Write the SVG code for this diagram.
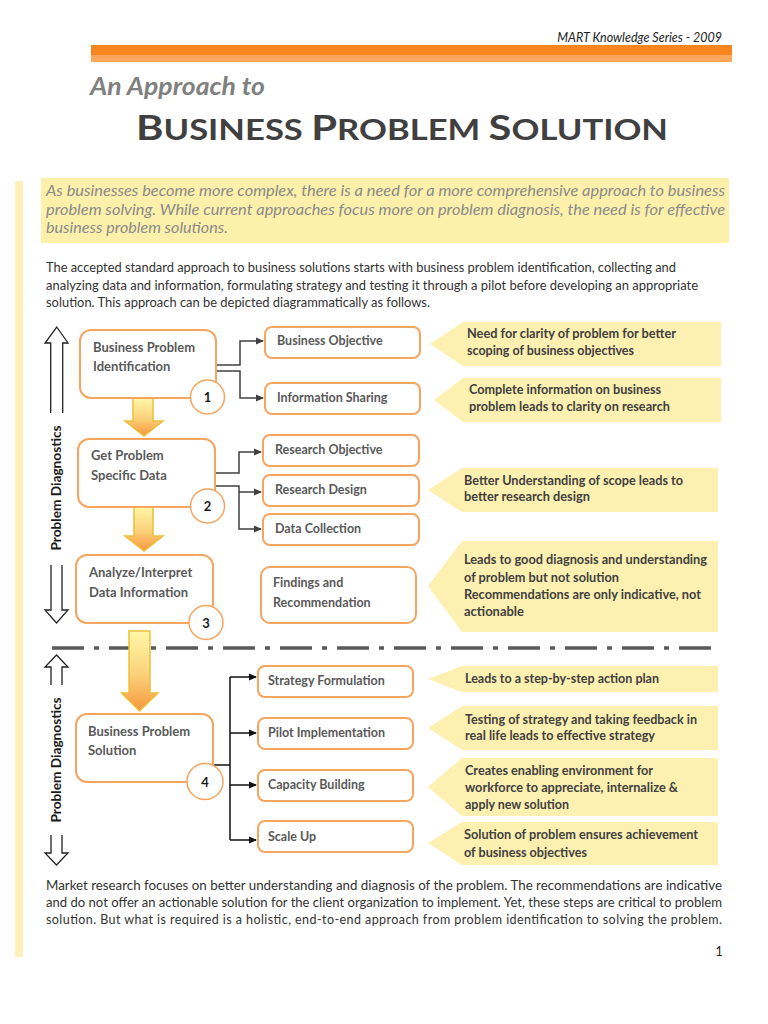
<svg xmlns="http://www.w3.org/2000/svg" width="768" height="1024" viewBox="0 0 768 1024">
<style>
text{font-family:Lato,"Open Sans","Liberation Sans",sans-serif}
.nt{font-size:13px;font-weight:bold;fill:#595959}
.bt{font-size:12.5px;font-weight:bold;fill:#595959}
.ct{font-size:12.5px;font-weight:bold;fill:#404040}
.num{font-size:13px;font-weight:bold;fill:#1a1a1a;text-anchor:middle}
.box{fill:#fff;stroke:#F5A560;stroke-width:2}
.circ{fill:#fff;stroke:#F5A560;stroke-width:1.5}
.call{fill:#FDF0B0}
.conn{fill:none;stroke:#404040;stroke-width:1.5}
.conn2{fill:none;stroke:#111;stroke-width:1.5}
.hollow{fill:#fff;stroke:#222;stroke-width:1.3}
.ya{fill:url(#yg);stroke:#EDC03A;stroke-width:1.5}
.body{font-size:12.5px;fill:#333}
.vt{font-size:13px;font-weight:bold;fill:#1a1a1a;text-anchor:middle}
</style>
<defs>
<linearGradient id="yg" x1="0" y1="0" x2="0" y2="1">
<stop offset="0" stop-color="#FFF8A8"/>
<stop offset="0.55" stop-color="#FBD07A"/>
<stop offset="1" stop-color="#F6963C"/>
</linearGradient>
<marker id="ah" markerWidth="8" markerHeight="8" refX="7" refY="4" orient="auto" markerUnits="userSpaceOnUse">
<path d="M0,0.5 L8,4 L0,7.5 Z" fill="#404040"/>
</marker>
<marker id="ah2" markerWidth="8" markerHeight="8" refX="7" refY="4" orient="auto" markerUnits="userSpaceOnUse">
<path d="M0,0.5 L8,4 L0,7.5 Z" fill="#111"/>
</marker>
</defs>
<rect width="768" height="1024" fill="#fff"/>

<g id="header">
<text x="722" y="42" font-size="12.5" font-style="italic" fill="#222" text-anchor="end">MART Knowledge Series - 2009</text>
<rect x="91" y="45" width="641" height="10" fill="#F7861E"/>
<rect x="91" y="55" width="641" height="7" fill="#FBA75C"/>
<text x="90" y="95" font-size="24" font-style="italic" font-weight="bold" fill="#808080" textLength="175" lengthAdjust="spacingAndGlyphs">An Approach to</text>
<text x="136" y="140" font-weight="bold" fill="#404040" textLength="532" lengthAdjust="spacingAndGlyphs"><tspan font-size="35">B</tspan><tspan font-size="29">USINESS </tspan><tspan font-size="35">P</tspan><tspan font-size="29">ROBLEM </tspan><tspan font-size="35">S</tspan><tspan font-size="29">OLUTION</tspan></text>
</g>

<rect x="15" y="181" width="8" height="776" fill="#FDF0B8"/>

<g id="intro">
<rect x="41" y="178" width="688" height="65" fill="#FDF0AA"/>
<text x="46" y="196" font-size="14.5" font-style="italic" fill="#8A8A8A" textLength="679" lengthAdjust="spacingAndGlyphs">As businesses become more complex, there is a need for a more comprehensive approach to business</text>
<text x="46" y="215" font-size="14.5" font-style="italic" fill="#8A8A8A" textLength="679" lengthAdjust="spacingAndGlyphs">problem solving. While current approaches focus more on problem diagnosis, the need is for effective</text>
<text x="46" y="233" font-size="14.5" font-style="italic" fill="#8A8A8A" textLength="182" lengthAdjust="spacingAndGlyphs">business problem solutions.</text>
</g>

<g id="para1">
<text class="body" x="46" y="272" textLength="630" lengthAdjust="spacingAndGlyphs">The accepted standard approach to business solutions starts with business problem identification, collecting and</text>
<text class="body" x="46" y="290" textLength="652" lengthAdjust="spacingAndGlyphs">analyzing data and information, formulating strategy and testing it through a pilot before developing an appropriate</text>
<text class="body" x="46" y="307" textLength="384" lengthAdjust="spacingAndGlyphs">solution. This approach can be depicted diagrammatically as follows.</text>
</g>

<g id="side-arrows">
<path class="hollow" d="M50.7,413 V343 H45 L56.7,327 L68,343 H62.7 V413"/>
<text class="vt" transform="translate(61,488) rotate(-90)" textLength="125" lengthAdjust="spacingAndGlyphs">Problem Diagnostics</text>
<path class="hollow" d="M51,565 V610 H45 L56.5,623 L68,610 H62 V565"/>
<path class="hollow" d="M51,685 V667 H45 L56.5,655 L68,667 H62 V685"/>
<text class="vt" transform="translate(61,760) rotate(-90)" textLength="125" lengthAdjust="spacingAndGlyphs">Problem Diagnostics</text>
<path class="hollow" d="M51,835 V853 H45 L56.5,865 L68,853 H62 V835"/>
</g>

<line x1="52" y1="648" x2="716" y2="648" stroke="#595959" stroke-width="3.5" stroke-dasharray="32,10,5,10"/>

<g id="flow-arrows">
<path class="ya" d="M133,398 H153 V421 H163 L144,436 L125,421 H133 Z"/>
<path class="ya" d="M134,507 H153 V536 H163 L144,551 L125,536 H134 Z"/>
<path class="ya" d="M129,631 H150 V693 H158 L139.5,711 L121.5,693 H129 Z"/>
</g>

<g id="connectors">
<path class="conn" d="M216,365 H240 V341 H263" marker-end="url(#ah)"/>
<path class="conn" d="M216,371 H240 V398 H263" marker-end="url(#ah)"/>
<path class="conn" d="M215,473 H239 V452 H261" marker-end="url(#ah)"/>
<path class="conn" d="M215,486 H239 V529 H261" marker-end="url(#ah)"/>
<path class="conn" d="M239,492 H261" marker-end="url(#ah)"/>
<path class="conn2" d="M212,765 H230"/>
<path class="conn2" d="M230,677 V840"/>
<path class="conn2" d="M230,677 H256" marker-end="url(#ah2)"/>
<path class="conn2" d="M230,733 H256" marker-end="url(#ah2)"/>
<path class="conn2" d="M230,785 H256" marker-end="url(#ah2)"/>
<path class="conn2" d="M230,840 H256" marker-end="url(#ah2)"/>
</g>

<g id="n1">
<rect class="box" x="80" y="330" width="136" height="68" rx="11"/>
<text class="nt" x="93" y="352">Business Problem</text>
<text class="nt" x="93" y="371">Identification</text>
<circle class="circ" cx="207.5" cy="397" r="17"/>
<text class="num" x="207.5" y="402">1</text>
</g>
<g id="n2">
<rect class="box" x="78" y="439" width="137" height="68" rx="11"/>
<text class="nt" x="91" y="460">Get Problem</text>
<text class="nt" x="91" y="480">Specific Data</text>
<circle class="circ" cx="207.5" cy="506" r="17"/>
<text class="num" x="207.5" y="511">2</text>
</g>
<g id="n3">
<rect class="box" x="76" y="555" width="137" height="68" rx="11"/>
<text class="nt" x="89" y="577">Analyze/Interpret</text>
<text class="nt" x="89" y="597">Data Information</text>
<circle class="circ" cx="206" cy="622.5" r="17"/>
<text class="num" x="206" y="627.5">3</text>
</g>
<g id="n4">
<rect class="box" x="76" y="714" width="137" height="68" rx="11"/>
<text class="nt" x="88" y="736">Business Problem</text>
<text class="nt" x="88" y="755">Solution</text>
<circle class="circ" cx="205" cy="781.5" r="18"/>
<text class="num" x="205" y="786.5">4</text>
</g>

<g id="b-objective"><rect class="box" x="265" y="327" width="155" height="31" rx="7"/><text class="bt" x="277" y="345">Business Objective</text></g>
<g id="b-info"><rect class="box" x="265" y="383" width="155" height="31" rx="7"/><text class="bt" x="277" y="402">Information Sharing</text></g>
<g id="b-robj"><rect class="box" x="263" y="435" width="156" height="31" rx="7"/><text class="bt" x="275" y="454">Research Objective</text></g>
<g id="b-rdes"><rect class="box" x="263" y="475" width="156" height="31" rx="7"/><text class="bt" x="275" y="494">Research Design</text></g>
<g id="b-dcol"><rect class="box" x="263" y="514" width="156" height="31" rx="7"/><text class="bt" x="275" y="533">Data Collection</text></g>
<g id="b-find"><rect class="box" x="261" y="567" width="155" height="56" rx="9"/><text class="bt" x="273" y="587">Findings and</text><text class="bt" x="273" y="607">Recommendation</text></g>
<g id="b-strat"><rect class="box" x="258" y="666" width="155" height="31" rx="7"/><text class="bt" x="268" y="685">Strategy Formulation</text></g>
<g id="b-pilot"><rect class="box" x="258" y="718" width="155" height="31" rx="7"/><text class="bt" x="268" y="737">Pilot Implementation</text></g>
<g id="b-cap"><rect class="box" x="258" y="770" width="155" height="31" rx="7"/><text class="bt" x="268" y="789">Capacity Building</text></g>
<g id="b-scale"><rect class="box" x="258" y="821" width="155" height="31" rx="7"/><text class="bt" x="268" y="841">Scale Up</text></g>

<g id="c1"><path class="call" d="M430,344 L463,322 H721 V366 H463 Z"/>
<text class="ct" x="467" y="338" textLength="209" lengthAdjust="spacingAndGlyphs">Need for clarity of problem for better</text>
<text class="ct" x="467" y="355" textLength="167" lengthAdjust="spacingAndGlyphs">scoping of business objectives</text></g>
<g id="c2"><path class="call" d="M434,400 L463,378 H721 V422 H463 Z"/>
<text class="ct" x="469" y="394" textLength="192" lengthAdjust="spacingAndGlyphs">Complete information on business</text>
<text class="ct" x="469" y="411" textLength="201" lengthAdjust="spacingAndGlyphs">problem leads to clarity on research</text></g>
<g id="c3"><path class="call" d="M428,490 L462,468 H718 V512 H462 Z"/>
<text class="ct" x="464" y="485" textLength="219" lengthAdjust="spacingAndGlyphs">Better Understanding of scope leads to</text>
<text class="ct" x="464" y="501" textLength="126" lengthAdjust="spacingAndGlyphs">better research design</text></g>
<g id="c4"><path class="call" d="M428,586 L462,541 H718 V632 H462 Z"/>
<text class="ct" x="464" y="564" textLength="243" lengthAdjust="spacingAndGlyphs">Leads to good diagnosis and understanding</text>
<text class="ct" x="464" y="582" textLength="155" lengthAdjust="spacingAndGlyphs">of problem but not solution</text>
<text class="ct" x="464" y="599" textLength="237" lengthAdjust="spacingAndGlyphs">Recommendations are only indicative, not</text>
<text class="ct" x="464" y="616" textLength="60" lengthAdjust="spacingAndGlyphs">actionable</text></g>
<g id="c5"><path class="call" d="M428,679 L462,666 H718 V692 H462 Z"/>
<text class="ct" x="465" y="683" textLength="194" lengthAdjust="spacingAndGlyphs">Leads to a step-by-step action plan</text></g>
<g id="c6"><path class="call" d="M428,728 L462,706 H718 V750 H462 Z"/>
<text class="ct" x="465" y="724" textLength="232" lengthAdjust="spacingAndGlyphs">Testing of strategy and taking feedback in</text>
<text class="ct" x="465" y="740" textLength="190" lengthAdjust="spacingAndGlyphs">real life leads to effective strategy</text></g>
<g id="c7"><path class="call" d="M428,787 L462,758 H718 V816 H462 Z"/>
<text class="ct" x="465" y="775" textLength="188" lengthAdjust="spacingAndGlyphs">Creates enabling environment for</text>
<text class="ct" x="465" y="792" textLength="213" lengthAdjust="spacingAndGlyphs">workforce to appreciate, internalize &amp;</text>
<text class="ct" x="465" y="809" textLength="104" lengthAdjust="spacingAndGlyphs">apply new solution</text></g>
<g id="c8"><path class="call" d="M428,843 L462,822 H718 V865 H462 Z"/>
<text class="ct" x="464" y="839" textLength="234" lengthAdjust="spacingAndGlyphs">Solution of problem ensures achievement</text>
<text class="ct" x="464" y="857" textLength="123" lengthAdjust="spacingAndGlyphs">of business objectives</text></g>

<g id="para2">
<text class="body" x="46" y="890" textLength="676" lengthAdjust="spacingAndGlyphs">Market research focuses on better understanding and diagnosis of the problem. The recommendations are indicative</text>
<text class="body" x="46" y="907" textLength="676" lengthAdjust="spacingAndGlyphs">and do not offer an actionable solution for the client organization to implement. Yet, these steps are critical to problem</text>
<text class="body" x="46" y="924" textLength="676" lengthAdjust="spacing">solution. But what is required is a holistic, end-to-end approach from problem identification to solving the problem.</text>
</g>
<text x="719" y="956" font-size="12.5" fill="#222" text-anchor="middle" font-family="Liberation Serif,serif">1</text>
</svg>
